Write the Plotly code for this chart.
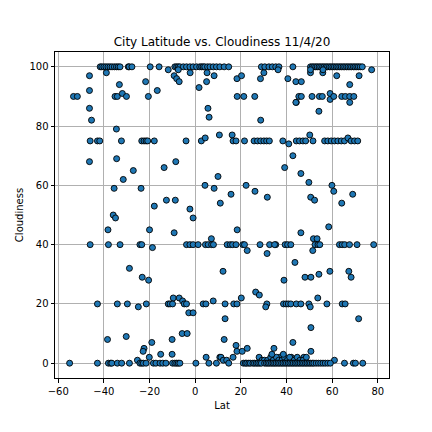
import plotly.graph_objects as go

# ---- data (latitude, cloudiness %) ----
lat_100 = [-41.6, -40.9, -40.0, -39.1, -38.2, -37.3, -36.4, -35.4, -34.5, -33.7, -32.9, -29.3, -28.9, -27.7,
           -19.7, -15.8, -8.9, -8.1, -7.4, -6.7, -5.2, -3.8, -2.3, -0.9, 0.6, 2.0, 2.8, 3.5, 4.2, 5.4, 6.5,
           7.9, 9.3, 10.8, 12.7, 14.7, 29.0, 30.5, 32.3, 33.8, 35.3, 36.7, 42.8, 50.5, 51.3, 52.0, 52.8,
           53.5, 54.3, 55.0, 55.8, 56.5, 57.3, 58.0, 58.8, 59.5, 60.3, 61.0, 61.8, 62.5, 63.3, 64.0, 64.8,
           65.5, 66.3, 67.0, 67.8, 68.5, 69.3, 70.0, 70.8, 71.5, 72.3, 73.2]
cld_100 = [100, 100, 100, 100, 100, 100, 100, 100, 100, 100, 100, 100, 100, 100,
           100, 100, 100, 100, 100, 100, 100, 100, 100, 100, 100, 100, 100, 100, 100, 100, 100,
           100, 100, 100, 100, 100, 100, 100, 100, 100, 100, 100, 100, 100, 100, 100, 100,
           100, 100, 100, 100, 100, 100, 100, 100, 100, 100, 100, 100, 100, 100, 100, 100,
           100, 100, 100, 100, 100, 100, 100, 100, 100, 100, 100]

lat_high = [-11.8, -7.4, -46.3, -38.9, -9.2, -8.1, -7.0, -2.2, 5.0, 5.2, 8.3, 18.3, 20.3, 28.6, 30.1, 36.3,
            40.6, 44.1, 46.5, 50.5, 55.9, 62.0, 71.8, 77.3, -21.7, -33.2, 1.7, 67.7, -16.6, -46.3, 50.5, 56.0]
cld_high = [99, 99, 97, 98, 97, 96, 95, 98, 95, 98, 97, 96, 97, 96, 98, 99,
            96, 95, 95, 98, 98, 97, 97, 99, 95, 94, 93, 94, 92, 92, 99, 99]

lat_90 = [-53.3, -51.6, -35.1, -34.1, -31.9, -30.1, -20.5, -46.3, -45.4, 18.4, 21.3, 26.1, 5.6, 6.1, 28.7,
          44.3, 45.4, 46.5, 44.1, 51.2, 54.4, 55.7, 59.1, 59.1, 60.7, 64.2, 65.8, 67.7, 69.5, 67.7, 54.2, -34.5]
cld_90 = [90, 90, 90, 90, 91, 90, 90, 86, 82, 90, 90, 90, 86, 83, 82,
          88, 90, 90, 88, 90, 90, 90, 91, 89, 90, 90, 90, 90, 90, 88, 85, 79]

lat_75 = [-46.0, -42.8, -41.8, -32.3, -23.4, -22.4, -21.5, -20.8, -17.9, -4.0, 2.7, 4.4, 10.6, 16.2, 16.6,
          17.9, 21.6, 25.8, 27.3, 28.7, 30.1, 31.3, 32.5, 38.4, 41.0, 44.3, 45.7, 47.2, 48.4, 50.2, 51.6,
          56.7, 58.1, 59.6, 61.0, 62.5, 64.0, 65.4, 66.9, 68.3, 69.8, 71.2]
cld_75 = [75, 75, 75, 75, 75, 75, 75, 75, 75, 75, 75, 76, 77, 77, 75,
          75, 75, 75, 75, 75, 75, 75, 75, 75, 74, 75, 75, 75, 75, 77, 75,
          75, 75, 75, 75, 75, 75, 75, 76, 75, 75, 75]

lat_mid = [-46.3, -34.4, -27.1, -13.6, -31.5, -35.5, -23.7, -12.6, -17.9, -35.9, -34.9, -38.2, -20.0, -8.5,
           10.0, 4.3, 8.3, 22.3, 26.2, 15.7, 31.6, -8.7, 11.0, -2.3, -0.9, -9.2, 18.4, 42.8, 39.2, 46.3,
           49.8, 59.9, 60.7, 69.0, 50.6, 52.3, 64.2, 58.5, 46.3, 51.8, 53.4, 7.1]
cld_mid = [68, 69, 65, 66, 62, 59, 59, 55, 53, 50, 49, 45, 45, 68,
           63, 60, 59, 60, 58, 57, 56, 55, 54, 52, 49, 44, 45, 70, 66, 64,
           61, 60, 58, 57, 56, 55, 54, 46, 44, 42, 42, 42]

lat_40 = [-46.0, -38.0, -32.9, -24.2, -23.4, -18.7, -3.8, -2.3, -0.9, 1.3, 4.5, 5.7, 7.2, 8.0, 14.0, 15.4,
          16.4, 17.9, 20.9, 21.6, 28.4, 32.6, 35.3, 22.8, 31.5, 34.8, 39.4, 40.5, 41.9, 52.5, 53.8, 54.6,
          63.2, 64.4, 65.5, 67.6, 70.9, 78.2, 51.5, 43.7, 12.2]
cld_40 = [40, 40, 40, 40, 40, 39, 40, 40, 40, 40, 40, 40, 40, 40, 40, 40,
          40, 40, 40, 40, 40, 40, 40, 38, 37, 40, 40, 40, 40, 40, 40, 40,
          40, 40, 40, 40, 40, 40, 38, 34, 31]

lat_20 = [-42.8, -34.1, -29.7, -21.4, -11.8, -11.0, -9.9, -24.9, -9.6, -7.0, -5.5, -4.8, -3.8, 3.5, 4.7,
          7.9, 13.1, 16.9, 18.3, 20.2, 31.4, 30.9, -2.8, -0.9, 13.1, 38.7, 39.8, 40.8, 41.9, 44.3, 46.3,
          49.8, 50.4, 53.7, 57.7, 64.4, 65.7, 26.5, 28.1, 38.9, 48.1, 50.7, 54.2, 59.0, 67.3, 68.3,
          -28.8, -23.2, -20.4, 71.6, 50.7]
cld_20 = [20, 20, 20, 20, 20, 20, 20, 19, 22, 22, 21, 20, 20, 20, 20,
          21, 20, 20, 20, 22, 20, 19, 17, 17, 15, 20, 20, 20, 20, 20, 20,
          20, 19, 22, 20, 20, 20, 24, 23, 28, 29, 29, 30, 31, 31, 29,
          32, 29, 28, 15, 12]

lat_low = [-38.4, -30.2, -19.0, -22.4, -22.8, -15.1, -20.1, -25.3, -10.1, -10.1, -5.7, -3.5, 4.8, 10.8,
           12.7, 17.9, 18.3, 20.6, 22.8, 34.5, 11.3, 12.3, 13.8, 16.6, 28.0, 29.3, 42.8, 50.7, 47.6, 61.0,
           37.1, 42.1, 30.3, 31.7, 33.1, 34.2, 35.6, 36.6, 38.0, 39.1, 40.4, 41.4, 43.4, 44.7, 45.9, 47.3,
           48.7, 33.6, 38.6]
cld_low = [8, 9, 7, 5, 4, 3, 2, 1, 8, 3, 10, 10, 2, 2,
           8, 6, 4, 4, 5, 5, 2, 1, 1, 2, 2, 1, 7, 4, 2, 1,
           2, 2, 1, 1, 2, 1, 2, 1, 1, 2, 1, 2, 1, 2, 1, 1,
           2, 3, 3]

lat_0 = [-55.0, -42.8, -38.0, -37.0, -36.5, -34.1, -32.2, -28.8, -24.2, -23.4, -22.7, -21.5, -18.3, -17.2,
         -15.4, -14.2, -12.8, -9.9, -8.9, -8.1, -7.4, -6.7, 0.3, 6.0, 9.3, 14.7, 21.1, 22.0, 22.6, 23.5,
         24.2, 25.3, 26.0, 26.8, 27.5, 28.3, 29.0, 30.4, 31.2, 31.9, 32.6, 33.4, 34.1, 34.8, 35.5, 36.3,
         37.0, 37.8, 38.5, 39.3, 40.0, 40.8, 41.5, 42.3, 43.0, 43.8, 44.5, 45.3, 46.0, 46.8, 47.5, 48.3,
         49.0, 49.8, 50.5, 51.3, 52.0, 53.0, 54.0, 55.0, 56.0, 57.0, 58.1, 59.2, 65.4, 69.3, 70.2, 73.4]
cld_0 = [0, 0, 0, 0, 0, 0, 0, 0, 0, 0, 0, 0, 0, 0,
         0, 0, 0, 0, 0, 0, 0, 0, 0, 0, 0, 0, 0, 0, 0, 0,
         0, 0, 0, 0, 0, 0, 0, 0, 0, 0, 0, 0, 0, 0, 0, 0,
         0, 0, 0, 0, 0, 0, 0, 0, 0, 0, 0, 0, 0, 0, 0, 0,
         0, 0, 0, 0, 0, 0, 0, 0, 0, 0, 0, 0, 0, 0, 0, 0]

lat = lat_100 + lat_high + lat_90 + lat_75 + lat_mid + lat_40 + lat_20 + lat_low + lat_0
cloudiness = cld_100 + cld_high + cld_90 + cld_75 + cld_mid + cld_40 + cld_20 + cld_low + cld_0

x_ticks = [-60, -40, -20, 0, 20, 40, 60, 80]
y_ticks = [0, 20, 40, 60, 80, 100]

fig = go.Figure(go.Scatter(
    x=lat, y=cloudiness, mode="markers",
    marker=dict(size=6, color="#1f77b4", line=dict(color="black", width=0.9)),
    showlegend=False,
))

font = "DejaVu Sans, sans-serif"
axis_common = dict(
    showline=True, linecolor="black", linewidth=1, mirror=True,
    ticks="outside", ticklen=3.5, tickwidth=0.8, tickcolor="black",
    showgrid=True, gridcolor="#b0b0b0", gridwidth=0.8, zeroline=False,
    tickfont=dict(family=font, size=10, color="black"),
)

fig.update_layout(
    width=432, height=432,
    margin=dict(l=55, r=43, t=52, b=54),
    paper_bgcolor="white", plot_bgcolor="white",
    font=dict(family=font, color="black"),
    title=dict(text="City Latitude vs. Cloudiness 11/4/20", x=0.514, xanchor="center",
               y=1 - 42 / 432, yanchor="middle", yref="container",
               font=dict(family=font, size=12, color="black")),
    xaxis=dict(range=[-61.4, 84.9], tickvals=x_ticks,
               title=dict(text="Lat", font=dict(family=font, size=10), standoff=6), **axis_common),
    yaxis=dict(range=[-5, 105], tickvals=y_ticks,
               title=dict(text="Cloudiness", font=dict(family=font, size=10), standoff=3), **axis_common),
)

fig.write_html("out.html", config={"displayModeBar": False},
               post_script="document.body.style.margin='0';")
